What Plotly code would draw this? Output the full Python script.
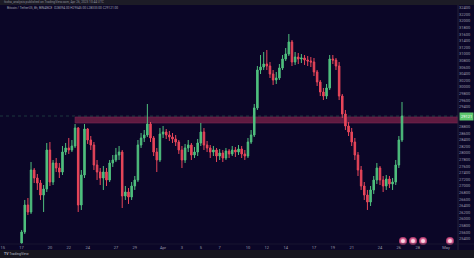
import pandas as pd
import plotly.graph_objects as go

# ---- data (BTC/USDT, 8h candles) ----
start_time = "2023-03-17 00:00"
first_open = 25273
closes = [25606, 26424, 26212, 27485, 27242, 27091, 26727, 26909, 28091, 27121,
          27697, 27545, 27424, 28030, 28152, 28091, 28212, 28758, 26424, 27333,
          28727, 28394, 28242, 27636, 27424, 27242, 27424, 27182, 27697, 27788,
          27939, 28030, 26697, 26818, 26667, 27000, 27182, 28242, 28455, 28545,
          28879, 28455, 28030, 27788, 28576, 28636, 28545, 28485, 28424, 28333,
          28091, 27788, 28152, 28242, 27939, 28030, 28303, 28636, 28242, 28152,
          28030, 28091, 27909, 28000, 27848, 28061, 27970, 28091, 28030, 28121,
          27970, 27909, 28333, 28545, 29364, 30515, 30606, 30697, 30636, 30394,
          30212, 30273, 30576, 30848, 31000, 31364, 30758, 30909, 30848, 30879,
          30818, 30788, 30758, 30455, 30152, 29848, 29727, 29970, 30848, 30818,
          30636, 29727, 29182, 28818, 28636, 28333, 27939, 27485, 27000, 26727,
          26515, 26879, 27182, 27545, 27182, 27000, 27212, 27061, 27121, 27636,
          28394, 29121]
highs = [25667, 26576, 26636, 27727, 27545, 27364, 27182, 27030, 28303, 28333,
         27788, 27848, 27697, 28212, 28303, 28455, 28394, 28879, 28788, 27485,
         28879, 28758, 28515, 28333, 27788, 27545, 27606, 27545, 27788, 27939,
         28152, 28212, 28091, 27000, 26939, 27121, 27303, 28394, 28606, 28697,
         29485, 28939, 28515, 28152, 28758, 28818, 28727, 28667, 28606, 28545,
         28394, 28212, 28273, 28394, 28303, 28182, 28424, 28909, 28758, 28364,
         28242, 28212, 28152, 28121, 28091, 28152, 28121, 28212, 28182, 28242,
         28212, 28091, 28455, 28697, 29485, 30636, 30970, 31061, 31121, 30758,
         30515, 30455, 30697, 30970, 31182, 31606, 31424, 31061, 31030, 31000,
         30970, 30939, 30909, 30879, 30515, 30212, 29970, 30091, 30970, 30970,
         30879, 30758, 29788, 29303, 28939, 28758, 28455, 28030, 27606, 27121,
         26879, 27000, 27303, 27697, 27606, 27303, 27333, 27303, 27242, 27788,
         28515, 29545]
lows = [25182, 25545, 26121, 26152, 27091, 26879, 26576, 26212, 26818, 27000,
        27030, 27424, 27242, 27333, 27939, 27970, 28030, 28152, 26212, 26273,
        27242, 28273, 28091, 27485, 27182, 27030, 26879, 27000, 27121, 27576,
        27727, 27788, 26333, 26576, 26455, 26576, 26879, 27121, 28152, 28333,
        28485, 28333, 27909, 27424, 27727, 28455, 28424, 28364, 28303, 28212,
        27970, 27545, 27697, 28030, 27788, 27848, 27909, 28212, 28091, 28030,
        27848, 27909, 27727, 27788, 27727, 27788, 27848, 27909, 27879, 27939,
        27848, 27788, 27848, 28273, 28485, 29303, 30394, 30515, 30515, 30273,
        30061, 30091, 30212, 30515, 30788, 30939, 30636, 30667, 30697, 30727,
        30667, 30636, 30606, 30333, 30030, 29727, 29606, 29636, 29909, 30697,
        30515, 29606, 29061, 28697, 28515, 28212, 27788, 27303, 26879, 26576,
        26273, 26394, 26758, 27061, 27030, 26818, 26879, 26939, 26879, 27030,
        27545, 28333]

zone_start = "2023-03-22 16:00"
zone_low, zone_high = 28909, 29091

tick_dates = ["2023-03-15", "2023-03-17", "2023-03-20", "2023-03-22", "2023-03-24",
              "2023-03-27", "2023-03-29", "2023-04-01", "2023-04-03", "2023-04-05",
              "2023-04-07", "2023-04-10", "2023-04-12", "2023-04-14", "2023-04-17",
              "2023-04-19", "2023-04-21", "2023-04-24", "2023-04-26", "2023-04-28",
              "2023-05-01"]
tick_text = ["15", "17", "20", "22", "24", "27", "29", "Apr", "3", "5", "7", "10",
             "12", "14", "17", "19", "21", "24", "26", "28", "May"]

price_ticks = [25400, 25600, 25800, 26000, 26200, 26400, 26600, 26800, 27000, 27200,
               27400, 27600, 27800, 28000, 28200, 28400, 28600, 28800, 29400, 29600,
               29800, 30000, 30200, 30400, 30600, 30800, 31000, 31200, 31400, 31600,
               31800, 32000, 32200, 32400]

event_dates = ["2023-04-26 10:30", "2023-04-27 12:00", "2023-04-28 13:30", "2023-05-01 10:00"]

x_range = ["2023-03-14 17:00", "2023-05-02 06:30"]
y_range = [25242, 32485]

# ---- figure ----
times = pd.date_range(start_time, periods=len(closes), freq="8h")
opens = [first_open] + closes[:-1]
highs = [max(h, o, c) for h, o, c in zip(highs, opens, closes)]
lows = [min(l, o, c) for l, o, c in zip(lows, opens, closes)]

BG = "#0b0627"
UP = "#4fbf7e"
DOWN = "#e8465a"
TXT = "#9a9cab"
FONT = "Roboto"

fig = go.Figure()
fig.add_trace(go.Candlestick(
    x=times, open=opens, high=highs, low=lows, close=closes,
    increasing=dict(line=dict(color=UP, width=1), fillcolor=UP),
    decreasing=dict(line=dict(color=DOWN, width=1), fillcolor=DOWN),
    whiskerwidth=0, showlegend=False, hoverinfo="skip",
))

fig.add_trace(go.Scatter(
    x=event_dates, y=[0.013] * len(event_dates), yaxis="y2", mode="markers",
    marker=dict(size=6, color="#f9d3e1", line=dict(color="rgba(214,74,130,0.8)", width=2)),
    showlegend=False, hoverinfo="skip", cliponaxis=False,
))

shapes = [
    # resistance zone
    dict(type="rect", xref="x", yref="y", x0=zone_start, x1=x_range[1],
         y0=zone_low, y1=zone_high, fillcolor="#5f1a40", line=dict(color="#7d2552", width=0.6),
         layer="below"),
    # last price line
    dict(type="line", xref="paper", yref="y", x0=0, x1=1, y0=closes[-1], y1=closes[-1],
         line=dict(color="rgba(79,191,126,0.45)", width=0.6, dash="dot")),
    # top bar
    dict(type="rect", xref="paper", yref="paper", x0=-0.01, x1=1.04, y0=1.0, y1=1.03,
         fillcolor="#1c1b26", line=dict(width=0), layer="above"),
    # bottom bar
    dict(type="rect", xref="paper", yref="paper", x0=-0.01, x1=1.04, y0=-0.06, y1=-0.025,
         fillcolor="#17161f", line=dict(width=0), layer="above"),
    # axis separators
    dict(type="line", xref="paper", yref="paper", x0=1, x1=1, y0=-0.025, y1=1.0,
         line=dict(color="#24223a", width=1)),
    dict(type="line", xref="paper", yref="paper", x0=-0.01, x1=1.04, y0=0, y1=0,
         line=dict(color="#1d1b33", width=0.8)),
]

annotations = [
    dict(xref="paper", yref="paper", x=0.004, y=1.0105, xanchor="left", yanchor="middle",
         text="fxcha_analysis published on TradingView.com, Apr 26, 2023 10:44 UTC",
         showarrow=False, font=dict(size=3.2, color="#8c8e9a", family=FONT)),
    dict(xref="paper", yref="paper", x=0.01, y=0.988, xanchor="left", yanchor="middle",
         text=f"Bitcoin / TetherUS, 8h, BINANCE  O{opens[-1]:.2f} H{highs[-1]:.2f} "
              f"L{lows[-1]:.2f} C{closes[-1]:.2f}",
         showarrow=False, font=dict(size=3.2, color="#a3a5b3", family=FONT)),
    dict(xref="paper", yref="paper", x=0.005, y=-0.043, xanchor="left", yanchor="middle",
         text="<b>TV</b> TradingView", showarrow=False,
         font=dict(size=3.5, color="#b9bbc6", family=FONT)),
    dict(xref="paper", yref="y", x=1.003, y=closes[-1], xanchor="left", yanchor="middle",
         text=f"{closes[-1]:.0f}", showarrow=False, bgcolor="#5cc66e",
         borderpad=1, font=dict(size=4, color="#ffffff", family=FONT)),
]

fig.update_layout(
    width=474, height=258,
    margin=dict(l=0, r=16, t=5, b=14),
    paper_bgcolor=BG, plot_bgcolor=BG,
    font=dict(family=FONT, color=TXT, size=4),
    xaxis=dict(type="date", range=x_range, rangeslider=dict(visible=False),
               tickvals=tick_dates, ticktext=tick_text, showgrid=False, zeroline=False,
               showline=False, ticks="", tickfont=dict(size=4, color=TXT), ticklabelstandoff=0),
    yaxis=dict(side="right", range=y_range, tickvals=price_ticks, tickformat="d",
               showgrid=False, zeroline=False, showline=False, ticks="",
               tickfont=dict(size=4, color=TXT)),
    yaxis2=dict(overlaying="y", range=[0, 1], visible=False, fixedrange=True),
    shapes=shapes, annotations=annotations,
)

fig.write_html("out.html")
